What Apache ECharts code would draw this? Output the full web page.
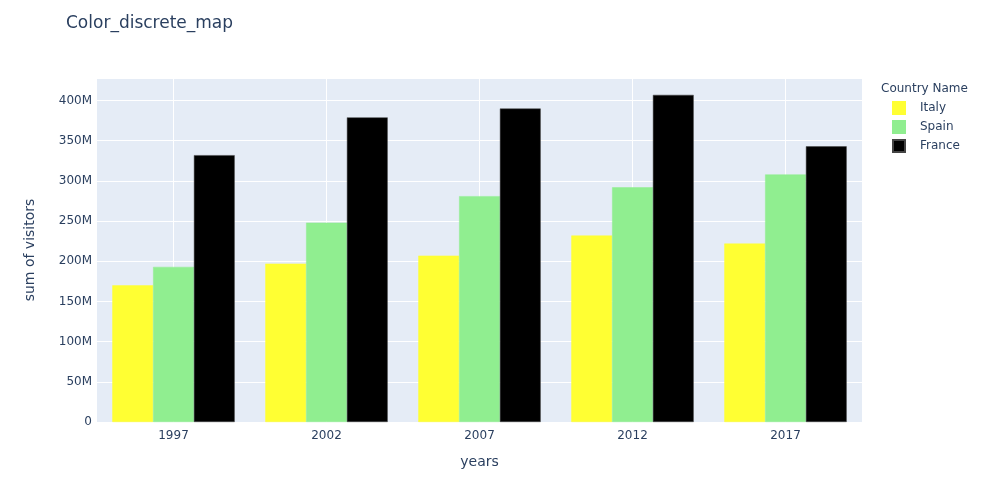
<!DOCTYPE html>
<html>
<head>
<meta charset="utf-8">
<script src="https://cdn.jsdelivr.net/npm/echarts@6/dist/echarts.min.js"></script>
<style>
html,body{margin:0;padding:0;background:#fff;}
#chart{width:983px;height:482px;}
</style>
</head>
<body>
<div id="chart"></div>
<script>
const years = ['1997', '2002', '2007', '2012', '2017'];
const italy = [170e6, 197e6, 207e6, 232e6, 222e6];
const spain = [193e6, 248e6, 281e6, 292e6, 308e6];
const france = [332e6, 379e6, 390e6, 407e6, 343e6];
const yTicks = [0, 50e6, 100e6, 150e6, 200e6, 250e6, 300e6, 350e6, 400e6];

const FONT = '"DejaVu Sans", verdana, arial, sans-serif';
const TXT = '#2a3f5f';

const chart = echarts.init(document.getElementById('chart'), null, {renderer: 'canvas'});

function bar(name, data, color) {
  return {
    name: name, type: 'bar', data: data,
    barGap: '0%', barCategoryGap: '20%',
    itemStyle: {color: color, borderColor: color === '#000000' ? '#444' : color, borderWidth: 0.5},
    emphasis: {disabled: true}
  };
}

const series = [
  bar('Italy', italy, '#FFFF33'),
  bar('Spain', spain, '#90EE90'),
  bar('France', france, '#000000')
];
series[1].markLine = {
  silent: true, symbol: 'none', z: 1, animation: false,
  label: {show: false},
  lineStyle: {color: '#ffffff', width: 1, type: 'solid'},
  data: years.map(y => ({xAxis: y}))
};

chart.setOption({
  animation: false,
  textStyle: {fontFamily: FONT},
  title: [
    {text: 'Color_discrete_map', left: 61, top: 10,
     textStyle: {fontFamily: FONT, fontSize: 17, fontWeight: 'normal', color: TXT}},
    {text: 'Country Name', left: 881, top: 83, padding: 0,
     textStyle: {fontFamily: FONT, fontSize: 12, fontWeight: 'normal', color: TXT}}
  ],
  legend: {
    orient: 'vertical', left: 892, top: 101, padding: 0,
    itemWidth: 12, itemHeight: 12, itemGap: 5, icon: 'rect',
    data: ['Italy', 'Spain', 'France'],
    textStyle: {fontFamily: FONT, fontSize: 12, color: TXT, lineHeight: 12, padding: [0, 0, 0, 10]}
  },
  grid: {left: 97, right: 121, top: 78, bottom: 60, show: true,
         backgroundColor: '#E5ECF6', borderWidth: 0},
  xAxis: {
    type: 'category', data: years,
    name: 'years', nameLocation: 'middle', nameGap: 33,
    nameTextStyle: {fontFamily: FONT, fontSize: 14, color: TXT},
    axisLine: {show: false}, axisTick: {show: false},
    axisLabel: {fontFamily: FONT, fontSize: 12, color: TXT, margin: 8},
    splitLine: {show: false}
  },
  yAxis: {
    type: 'value', min: 0, max: 428e6, interval: 50e6,
    name: 'sum of visitors', nameLocation: 'middle', nameGap: 60,
    nameTextStyle: {fontFamily: FONT, fontSize: 14, color: TXT},
    axisLine: {show: false}, axisTick: {show: false},
    axisLabel: {fontFamily: FONT, fontSize: 12, color: TXT, margin: 5,
      showMaxLabel: false,
      formatter: v => yTicks.includes(v) ? (v === 0 ? '0' : (v / 1e6) + 'M') : ''},
    splitLine: {lineStyle: {color: '#ffffff', width: 1}}
  },
  series: series
});
</script>
</body>
</html>
